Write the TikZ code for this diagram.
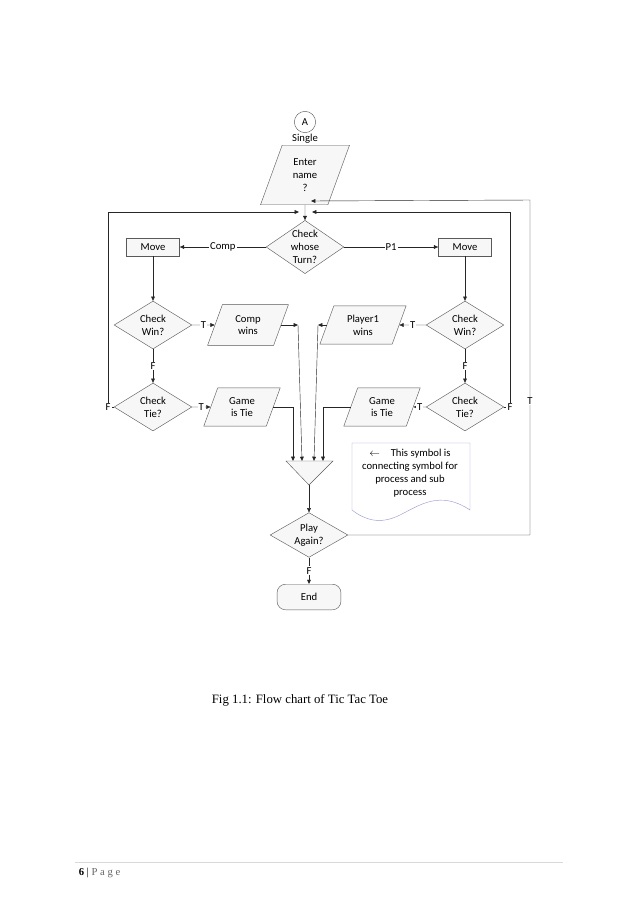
\documentclass[tikz,border=0pt]{standalone}
\usepackage{fontspec}
\setmainfont{Carlito}
\newfontfamily\capfont{Liberation Serif}
\usetikzlibrary{shapes,arrows.meta,positioning,shapes.geometric}

\tikzset{
    box/.style={draw=gray!70!black, fill=gray!6, minimum width=50pt, minimum height=17pt, inner sep=0pt},
    dia/.style={draw=gray!70!black, fill=gray!6, diamond, minimum width=73pt, minimum height=45pt, inner sep=0pt},
    io/.style={draw=gray!70!black, fill=gray!6, trapezium, trapezium left angle=70, trapezium right angle=110, minimum width=76pt, minimum height=36pt, inner sep=1pt, align=center},
    lbl/.style={fill=white, inner sep=1pt},
    every label/.style={align=center, inner sep=0pt},
    line/.style={draw=black!85, -{Triangle[length=4pt,width=3.5pt]}},
    plain/.style={draw=black!85}
}

\begin{document}
\begin{tikzpicture}[x=0.033cm, y=-0.033cm, font=\normalsize]
    \useasboundingbox (0,0) rectangle (638,902);

    % top part
    \node (A) [circle, draw=gray!70!black, minimum size=20pt, inner sep=0pt] at (305,122) {A};
    \node (name) [io, minimum width=84pt, minimum height=50pt] at (305,175) {Enter\\name\\?};
    \coordinate (join) at (305,212);
    \node (turn) [dia, minimum height=50pt, label=center:{Check\\whose\\Turn?}] at (305,247) {};
    \node (mvl) [box] at (153,247) {Move};
    \node (mvr) [box] at (465,247) {Move};

    % left branch
    \node (winl) [dia, label=center:{Check\\Win?}] at (153,325) {};
    \node (tiel) [dia, label=center:{Check\\Tie?}] at (153,407) {};
    \node (compw) [io] at (248,325) {Comp\\wins};
    \node (gtl) [io, minimum width=66pt] at (242,407) {Game\\is Tie};

    % right branch
    \node (winr) [dia, label=center:{Check\\Win?}] at (465,325) {};
    \node (tier) [dia, label=center:{Check\\Tie?}] at (465,407) {};
    \node (p1w) [io] at (363,325) {Player1\\wins};
    \node (gtr) [io, minimum width=66pt] at (382,407) {Game\\is Tie};

    % merge and end
    \draw[draw=gray!70!black, fill=gray!6] (286,461) -- (333,461) -- (309,485) -- cycle;
    \coordinate (merge) at (309,485);
    \node (again) [dia, minimum height=42pt, label=center:{Play\\Again?}] at (309,535) {};
    \node (end) [box, rounded corners=8pt, minimum width=60pt, minimum height=24pt] at (309,597) {End};

    % note
    \draw[draw=blue!35!gray!60, fill=white] (352,443) -- (470,443) -- (470,510)
        .. controls (440,490) and (420,505) .. (400,515) .. controls (380,525) and (365,520) .. (352,510) -- cycle;
    \node (note) [align=center, inner sep=0pt] at (410,473) {$\leftarrow$\quad This symbol is\\connecting symbol for\\process and sub\\process};

    % connectors
    \draw[line] (A) -- node[lbl] {Single} (name);
    \draw[line] (name) -- (join) -- (turn);
    \draw[line] (turn) -- node[lbl] {Comp} (mvl);
    \draw[line] (turn) -- node[lbl] {P1} (mvr);
    \draw[line] (mvl) -- (winl);
    \draw[line] (mvr) -- (winr);
    \draw[line] (winl) -- node[lbl] {T} (compw);
    \draw[line] (winr) -- node[lbl] {T} (p1w);
    \draw[line] (winl) -- node[lbl] {F} (tiel);
    \draw[line] (winr) -- node[lbl] {F} (tier);
    \draw[line] (tiel) -- node[lbl] {T} (gtl);
    \draw[line] (tier) -- node[lbl] {T} (gtr);
    \draw[line] (compw.east |- 0,325) -- (298,325);
    \draw[line] (298,325) -- (302,461);
    \draw[line] (p1w.west |- 0,325) -- (318,325);
    \draw[line] (318,325) -- (314,461);
    \draw[line] (gtl.east |- 0,407) -| (293,461);
    \draw[line] (gtr.west |- 0,407) -| (323,461);
    \draw[line] (merge) -- (again);
    \draw[line] (again) -- node[lbl] {F} (end);
    \draw[line] (tiel.west) -| node[lbl, pos=0.5] {F} (108,212) -- (299,212);
    \draw[line] (tier.east) -| node[lbl, pos=0.5] {F} (510,212) -- (312,212);
    \draw[line] (again.east) -| node[lbl, pos=0.7] {T} (530,200) -- (311,201);

    % caption and footer
    \node (cap) [font=\capfont\large] at (300,700) {Fig 1.1: Flow chart of Tic Tac Toe};
    \draw[gray!30] (75,862) -- (563,862);
    \node (page) [anchor=west, font=\capfont] at (75,873) {\textbf{6} | {\color{gray!80!black}P a g e}};
\end{tikzpicture}
\end{document}
